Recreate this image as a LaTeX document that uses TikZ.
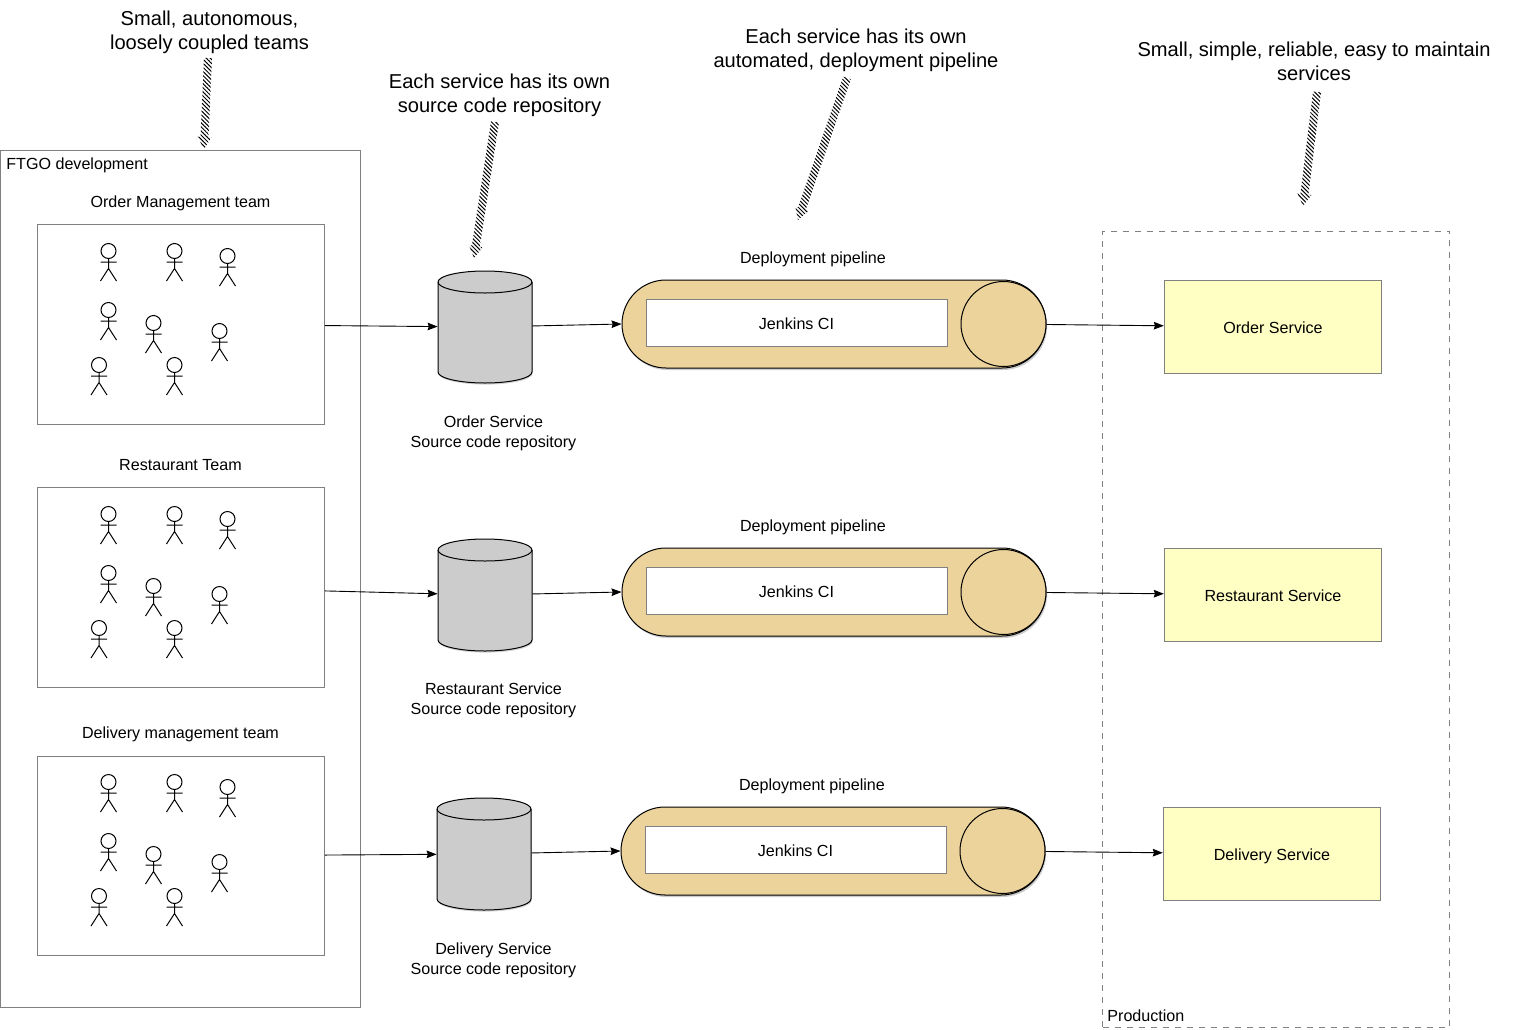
\documentclass[tikz,border=0pt]{standalone}
\usepackage{fontspec}
\setmainfont{Liberation Sans}
\usetikzlibrary{calc,shadows,patterns.meta,arrows.meta}

\definecolor{pipefill}{HTML}{EBD39B}
\definecolor{repofill}{HTML}{CCCCCC}
\definecolor{svcfill}{HTML}{FFFFC4}
\definecolor{boxline}{HTML}{808080}

\newcommand{\hatcharrow}[2]{%
  \fill[hatched] ($(#1)!2pt!90:(#2)$) -- ($(#2)!6pt!(#1)!2pt!90:(#2)$)
    -- ($(#2)!6pt!(#1)!3.5pt!90:(#2)$) -- (#2)
    -- ($(#2)!6pt!(#1)!3.5pt!-90:(#2)$) -- ($(#2)!6pt!(#1)!2pt!-90:(#2)$)
    -- ($(#1)!2pt!-90:(#2)$) -- cycle;}

\tikzset{
  actor/.pic={
    \draw[line width=0.5pt] (0,0) circle (7.5)
      (0,7.5) -- (0,17.5) (-8,11) -- (8,11)
      (-8,30) -- (0,17.5) -- (8,30);
  },
  repocan/.pic={
    \draw[line width=0.5pt,fill=repofill,drop shadow={opacity=0.35,shadow xshift=0.3pt,shadow yshift=-0.8pt}]
      (-47,-45) -- (-47,45) arc[start angle=180,end angle=0,x radius=47,y radius=11]
      -- (47,-45) arc[start angle=0,end angle=-180,x radius=47,y radius=11] -- cycle;
    \draw[line width=0.5pt] (-47,-45) arc[start angle=180,end angle=0,x radius=47,y radius=11];
  },
  label/.style={font=\fontsize{8.05}{10.1}\selectfont,align=center,inner sep=0},
  note/.style={font=\fontsize{10.05}{12}\selectfont,align=center,inner sep=0},
  box/.style={draw=boxline,line width=0.45pt,inner sep=0},
  teambox/.style={box,minimum width=143.5pt,minimum height=99.75pt},
  repospot/.style={minimum width=47pt,minimum height=56pt,inner sep=0},
  pipe/.style={draw=black,line width=0.5pt,fill=pipefill,rounded corners=22pt,
    minimum width=212pt,minimum height=44pt,inner sep=0,
    drop shadow={opacity=0.4,shadow xshift=0.6pt,shadow yshift=-1pt}},
  pipeend/.style={circle,draw=black,line width=0.5pt,fill=pipefill,minimum size=42.5pt,inner sep=0},
  jenkins/.style={box,fill=white,label,text height=6pt,text depth=0pt,minimum width=150.5pt,minimum height=23.5pt},
  service/.style={box,fill=svcfill,label,text height=6pt,text depth=0pt,minimum width=108.75pt,minimum height=46.75pt},
  link/.style={-{Stealth[length=5pt,width=3.8pt,inset=0.6pt]},line width=0.45pt},
  hatched/.style={pattern={Lines[angle=-45,distance=1.45pt,line width=0.5pt]}}
}

\begin{document}
\begin{tikzpicture}[x=0.5pt,y=-0.5pt]
  \useasboundingbox (0,0) rectangle (1527,1029);

  % notes on top
  \node[note] (note1) at (209.5,32) {Small, autonomous,\\loosely coupled teams};
  \node[note] (note2) at (499.5,95) {Each service has its own\\source code repository};
  \node[note] (note3) at (856,50) {Each service has its own\\automated, deployment pipeline};
  \node[note] (note4) at (1314,61) {Small, simple, reliable, easy to maintain\\services};

  \coordinate (h1a) at (208,58);   \coordinate (h1b) at (204,149);
  \coordinate (h2a) at (495,122);  \coordinate (h2b) at (474,258);
  \coordinate (h3a) at (847,78);   \coordinate (h3b) at (798,220);
  \coordinate (h4a) at (1317,92);  \coordinate (h4b) at (1303,206);
  \hatcharrow{h1a}{h1b}
  \hatcharrow{h2a}{h2b}
  \hatcharrow{h3a}{h3b}
  \hatcharrow{h4a}{h4b}

  % development side
  \node[box,minimum width=180pt,minimum height=428.5pt] (ftgo) at (180.5,578.5) {};
  \node[label,anchor=west] (ftgolabel) at (6,165) {FTGO development};
  \node[teambox] (team1) at (181,324.25) {};
  \node[teambox] (team2) at (181,587.25) {};
  \node[teambox] (team3) at (181,856) {};
  \node[label] (teamlabel1) at (180.5,203) {Order Management team};
  \node[label] (teamlabel2) at (180.5,465) {Restaurant Team};
  \node[label] (teamlabel3) at (180.5,734) {Delivery management team};

  \foreach \dy in {0,263,531} {
    \foreach \px/\py in {108.5/251,174.5/251,227.5/256,108.5/310,153.5/323,219.5/331,99/365,174.5/365}
      \pic at (\px,\py+\dy) {actor};
  }

  % production side
  \node[box,dashed,minimum width=173.5pt,minimum height=398pt] (prod) at (1276,629) {};
  \node[label,anchor=west] (prodlabel) at (1107,1015.5) {Production};

  % repositories
  \node[repospot] (repo1) at (485,327) {};
  \node[repospot] (repo2) at (485,595) {};
  \node[repospot] (repo3) at (484,854) {};
  \pic at (repo1) {repocan};
  \pic at (repo2) {repocan};
  \pic at (repo3) {repocan};
  \node[label] (repolabel1) at (493.5,433) {Order Service\\Source code repository};
  \node[label] (repolabel2) at (493.5,700.5) {Restaurant Service\\Source code repository};
  \node[label] (repolabel3) at (493.5,960) {Delivery Service\\Source code repository};

  % pipelines
  \foreach \n/\cx/\cy/\ly in {1/834/324/259,2/834/592/527,3/833/851/786} {
    \node[pipe] (pipe\n) at (\cx,\cy) {};
    \node[pipeend] (end\n) at (\cx+169.5,\cy) {};
    \node[jenkins] (jenkins\n) at (\cx-37.5,\cy-1) {Jenkins CI};
    \node[label] (pipelabel\n) at (\cx-21,\ly) {Deployment pipeline};
  }

  % services
  \node[service] (order) at (1273,327) {Order Service};
  \node[service] (restaurant) at (1273,595) {Restaurant Service};
  \node[service] (delivery) at (1272,854) {Delivery Service};

  \draw[link] (team1) -- (repo1);
  \draw[link] (team2) -- (repo2);
  \draw[link] (team3) -- (repo3);
  \draw[link] (repo1) -- (pipe1.west);
  \draw[link] (repo2) -- (pipe2.west);
  \draw[link] (repo3) -- (pipe3.west);
  \draw[link] (end1) -- (order);
  \draw[link] (end2) -- (restaurant);
  \draw[link] (end3) -- (delivery);
\end{tikzpicture}
\end{document}
